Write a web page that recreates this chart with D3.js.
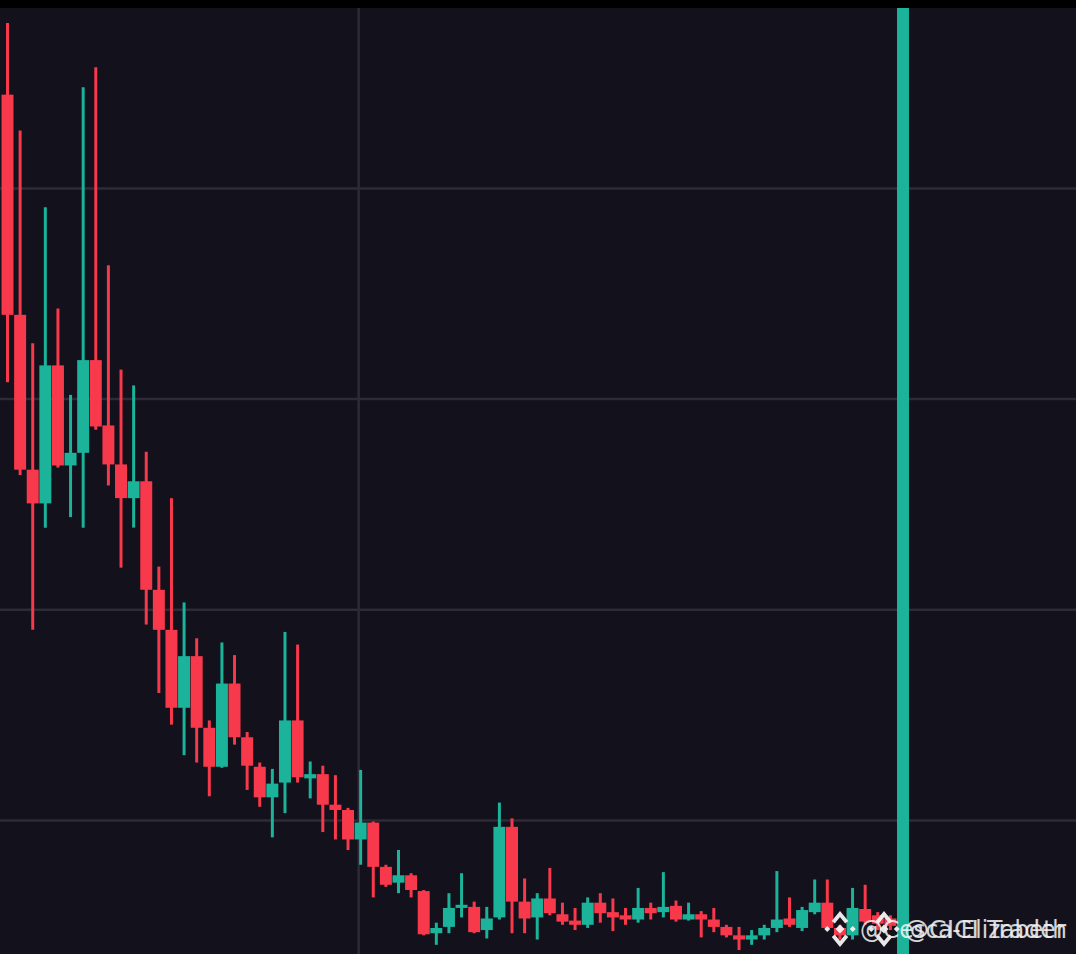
<!DOCTYPE html>
<html>
<head>
<meta charset="utf-8">
<script src="https://cdn.jsdelivr.net/npm/d3@7"></script>
<style>
  html, body { margin: 0; padding: 0; background: #000; }
  svg { display: block; }
</style>
</head>
<body>
<svg id="mySvg" width="1076" height="954"></svg>
<script>
// Candle data (index = bar number)
const opens  = [88.9, 68.0, 53.3, 50.1, 63.2, 53.7, 54.9, 63.7, 57.5, 53.8,
                50.6, 52.2, 41.9, 38.1, 30.7, 35.6, 28.8, 25.1, 33.0, 27.9,
                25.1, 22.2, 23.6, 29.5, 24.0, 24.4, 21.5, 21.0, 18.2, 19.8,
                15.6, 14.1, 14.8, 13.3, 9.3, 9.9, 11.7, 11.8, 9.6, 10.8,
                19.4, 12.3, 10.8, 12.6, 11.1, 10.5, 10.1, 12.2, 11.3, 11.0,
                10.6, 11.7, 11.3, 11.9, 10.6, 11.1, 10.6, 9.9, 9.1, 8.7,
                9.1, 9.8, 10.7, 9.8, 11.3, 12.2, 9.8, 9.1, 11.6, 11.0,
                10.7, 2.0];
const highs  = [95.7, 85.5, 65.3, 78.2, 68.6, 60.4, 89.6, 91.5, 72.7, 62.8,
                61.3, 55.0, 44.1, 50.6, 40.7, 37.3, 29.5, 36.9, 35.7, 28.4,
                25.5, 24.9, 37.9, 36.7, 25.6, 25.2, 24.3, 21.2, 24.8, 19.9,
                15.8, 17.2, 15.0, 13.4, 10.3, 13.1, 15.0, 12.3, 11.8, 21.7,
                20.2, 14.5, 13.1, 15.5, 12.2, 11.7, 12.7, 13.1, 12.6, 11.7,
                13.6, 12.2, 15.1, 12.4, 12.2, 11.4, 11.7, 10.1, 9.9, 9.6,
                10.1, 15.2, 12.7, 11.8, 14.4, 14.4, 10.1, 13.6, 13.9, 11.3,
                11.0, 100.0];
const lows   = [61.6, 52.8, 38.1, 47.8, 53.5, 48.8, 47.8, 57.1, 51.8, 44.0,
                47.8, 38.6, 32.1, 29.1, 26.2, 25.5, 22.3, 25.0, 27.2, 22.9,
                21.3, 18.4, 20.7, 23.6, 22.1, 18.9, 18.2, 17.2, 15.8, 12.7,
                13.7, 13.1, 12.7, 9.1, 8.2, 9.3, 10.8, 9.3, 8.8, 10.6,
                9.3, 9.3, 8.7, 11.0, 10.1, 9.6, 9.8, 10.3, 9.5, 10.1,
                10.3, 10.6, 10.8, 10.4, 10.5, 8.9, 9.4, 8.9, 7.7, 8.2,
                8.7, 9.4, 9.9, 9.5, 11.1, 9.6, 8.7, 8.7, 10.1, 9.6,
                9.6, 1.0];
const closes = [68.0, 53.3, 50.1, 63.2, 53.7, 54.9, 63.7, 57.4, 53.8, 50.6,
                52.2, 41.9, 38.1, 30.7, 35.6, 28.8, 25.1, 33.0, 27.9, 25.2,
                22.2, 23.5, 29.5, 24.1, 24.4, 21.5, 21.0, 18.2, 19.8, 15.6,
                13.9, 14.8, 13.4, 9.2, 9.8, 11.7, 12.0, 9.4, 10.7, 19.4,
                12.3, 10.7, 12.6, 11.2, 10.4, 10.1, 12.2, 11.2, 10.8, 10.6,
                11.7, 11.2, 11.8, 10.6, 11.1, 10.6, 9.9, 9.1, 8.7, 9.1,
                9.8, 10.6, 10.1, 11.5, 12.2, 9.8, 9.1, 11.7, 10.4, 10.2,
                10.0, 100.0];

// Price grid lines and the one time grid line
const gridPrices = [20, 40, 60, 80];
const gridBars = [28];

// Watermark texts (two overlapping reposts)
const watermarks = ["@Cesca-Elizabeth", "@CICI Trader"];

const width = 1076, height = 954;
const panelTop = 8;

const svg = d3.select("#mySvg");
svg.selectAll("*").remove();

// Black strip at the top, chart panel below
svg.append("rect")
  .attr("width", width).attr("height", height)
  .attr("fill", "#000");
svg.append("rect")
  .attr("x", 0).attr("y", panelTop)
  .attr("width", width).attr("height", height - panelTop)
  .attr("fill", "#12111c");

svg.append("clipPath").attr("id", "plot")
  .append("rect")
  .attr("x", 0).attr("y", panelTop)
  .attr("width", width).attr("height", height - panelTop);

const candles = opens.map((o, i) => ({
  i, open: o, high: highs[i], low: lows[i], close: closes[i]
}));

const x = d3.scaleLinear().domain([0, 71]).range([7.5, 903]);
const y = d3.scaleLinear().domain([20, 80]).range([820.5, 188.4]);
const step = x(1) - x(0);
const bodyW = step * 0.95;

const g = svg.append("g").attr("clip-path", "url(#plot)");

// Grid
g.selectAll("line.hgrid")
  .data(gridPrices)
  .join("line")
  .attr("class", "hgrid")
  .attr("x1", 0).attr("x2", width)
  .attr("y1", d => y(d)).attr("y2", d => y(d))
  .attr("stroke", "#2c2b37")
  .attr("stroke-width", 2.5);

g.selectAll("line.vgrid")
  .data(gridBars)
  .join("line")
  .attr("class", "vgrid")
  .attr("x1", d => x(d) - 2).attr("x2", d => x(d) - 2)
  .attr("y1", panelTop).attr("y2", height)
  .attr("stroke", "#2c2b37")
  .attr("stroke-width", 2.5);

const red = "#f8394b";
const teal = "#1bb39a";
const colour = d => d.close >= d.open ? teal : red;

// Wicks
g.selectAll("line.wick")
  .data(candles)
  .join("line")
  .attr("class", "wick")
  .attr("x1", d => x(d.i)).attr("x2", d => x(d.i))
  .attr("y1", d => y(d.high)).attr("y2", d => y(d.low))
  .attr("stroke", colour)
  .attr("stroke-width", 3);

// Bodies
g.selectAll("rect.body")
  .data(candles)
  .join("rect")
  .attr("class", "body")
  .attr("x", d => x(d.i) - bodyW / 2)
  .attr("width", bodyW)
  .attr("y", d => Math.min(y(d.open), y(d.close)))
  .attr("height", d => Math.max(2.5, Math.abs(y(d.open) - y(d.close))))
  .attr("fill", colour);

// Watermark: Binance-style mark + handle, twice, slightly offset
const drawMark = (cx, cy, s) => {
  const m = svg.append("g")
    .attr("transform", `translate(${cx},${cy})`)
    .attr("fill", "#f4f4f4")
    .attr("stroke", "#f4f4f4")
    .attr("opacity", 0.95);
  // outer chevrons
  m.append("path")
    .attr("d", `M${-s * 0.45},${-s * 0.45} L0,${-s} L${s * 0.45},${-s * 0.45}`)
    .attr("fill", "none").attr("stroke-width", s * 0.26);
  m.append("path")
    .attr("d", `M${-s * 0.45},${s * 0.45} L0,${s} L${s * 0.45},${s * 0.45}`)
    .attr("fill", "none").attr("stroke-width", s * 0.26);
  // small diamonds
  [[-s * 0.85, 0], [s * 0.85, 0], [0, 0]].forEach(([dx, dy], k) => {
    const r = k === 2 ? s * 0.3 : s * 0.2;
    m.append("path")
      .attr("d", `M${dx},${dy - r} L${dx + r},${dy} L${dx},${dy + r} L${dx - r},${dy} Z`)
      .attr("stroke", "none");
  });
};

drawMark(840, 929, 15);
drawMark(884, 929, 15);

svg.selectAll("text.wm")
  .data(watermarks)
  .join("text")
  .attr("class", "wm")
  .attr("x", (d, i) => i === 0 ? 860 : 904)
  .attr("y", 938)
  .attr("textLength", (d, i) => i === 0 ? 207 : 162)
  .attr("lengthAdjust", "spacingAndGlyphs")
  .attr("fill", "#f0f0f0")
  .attr("opacity", 0.88)
  .attr("font-family", "DejaVu Sans, sans-serif")
  .attr("font-size", "24px")
  .text(d => d);
</script>
</body>
</html>
